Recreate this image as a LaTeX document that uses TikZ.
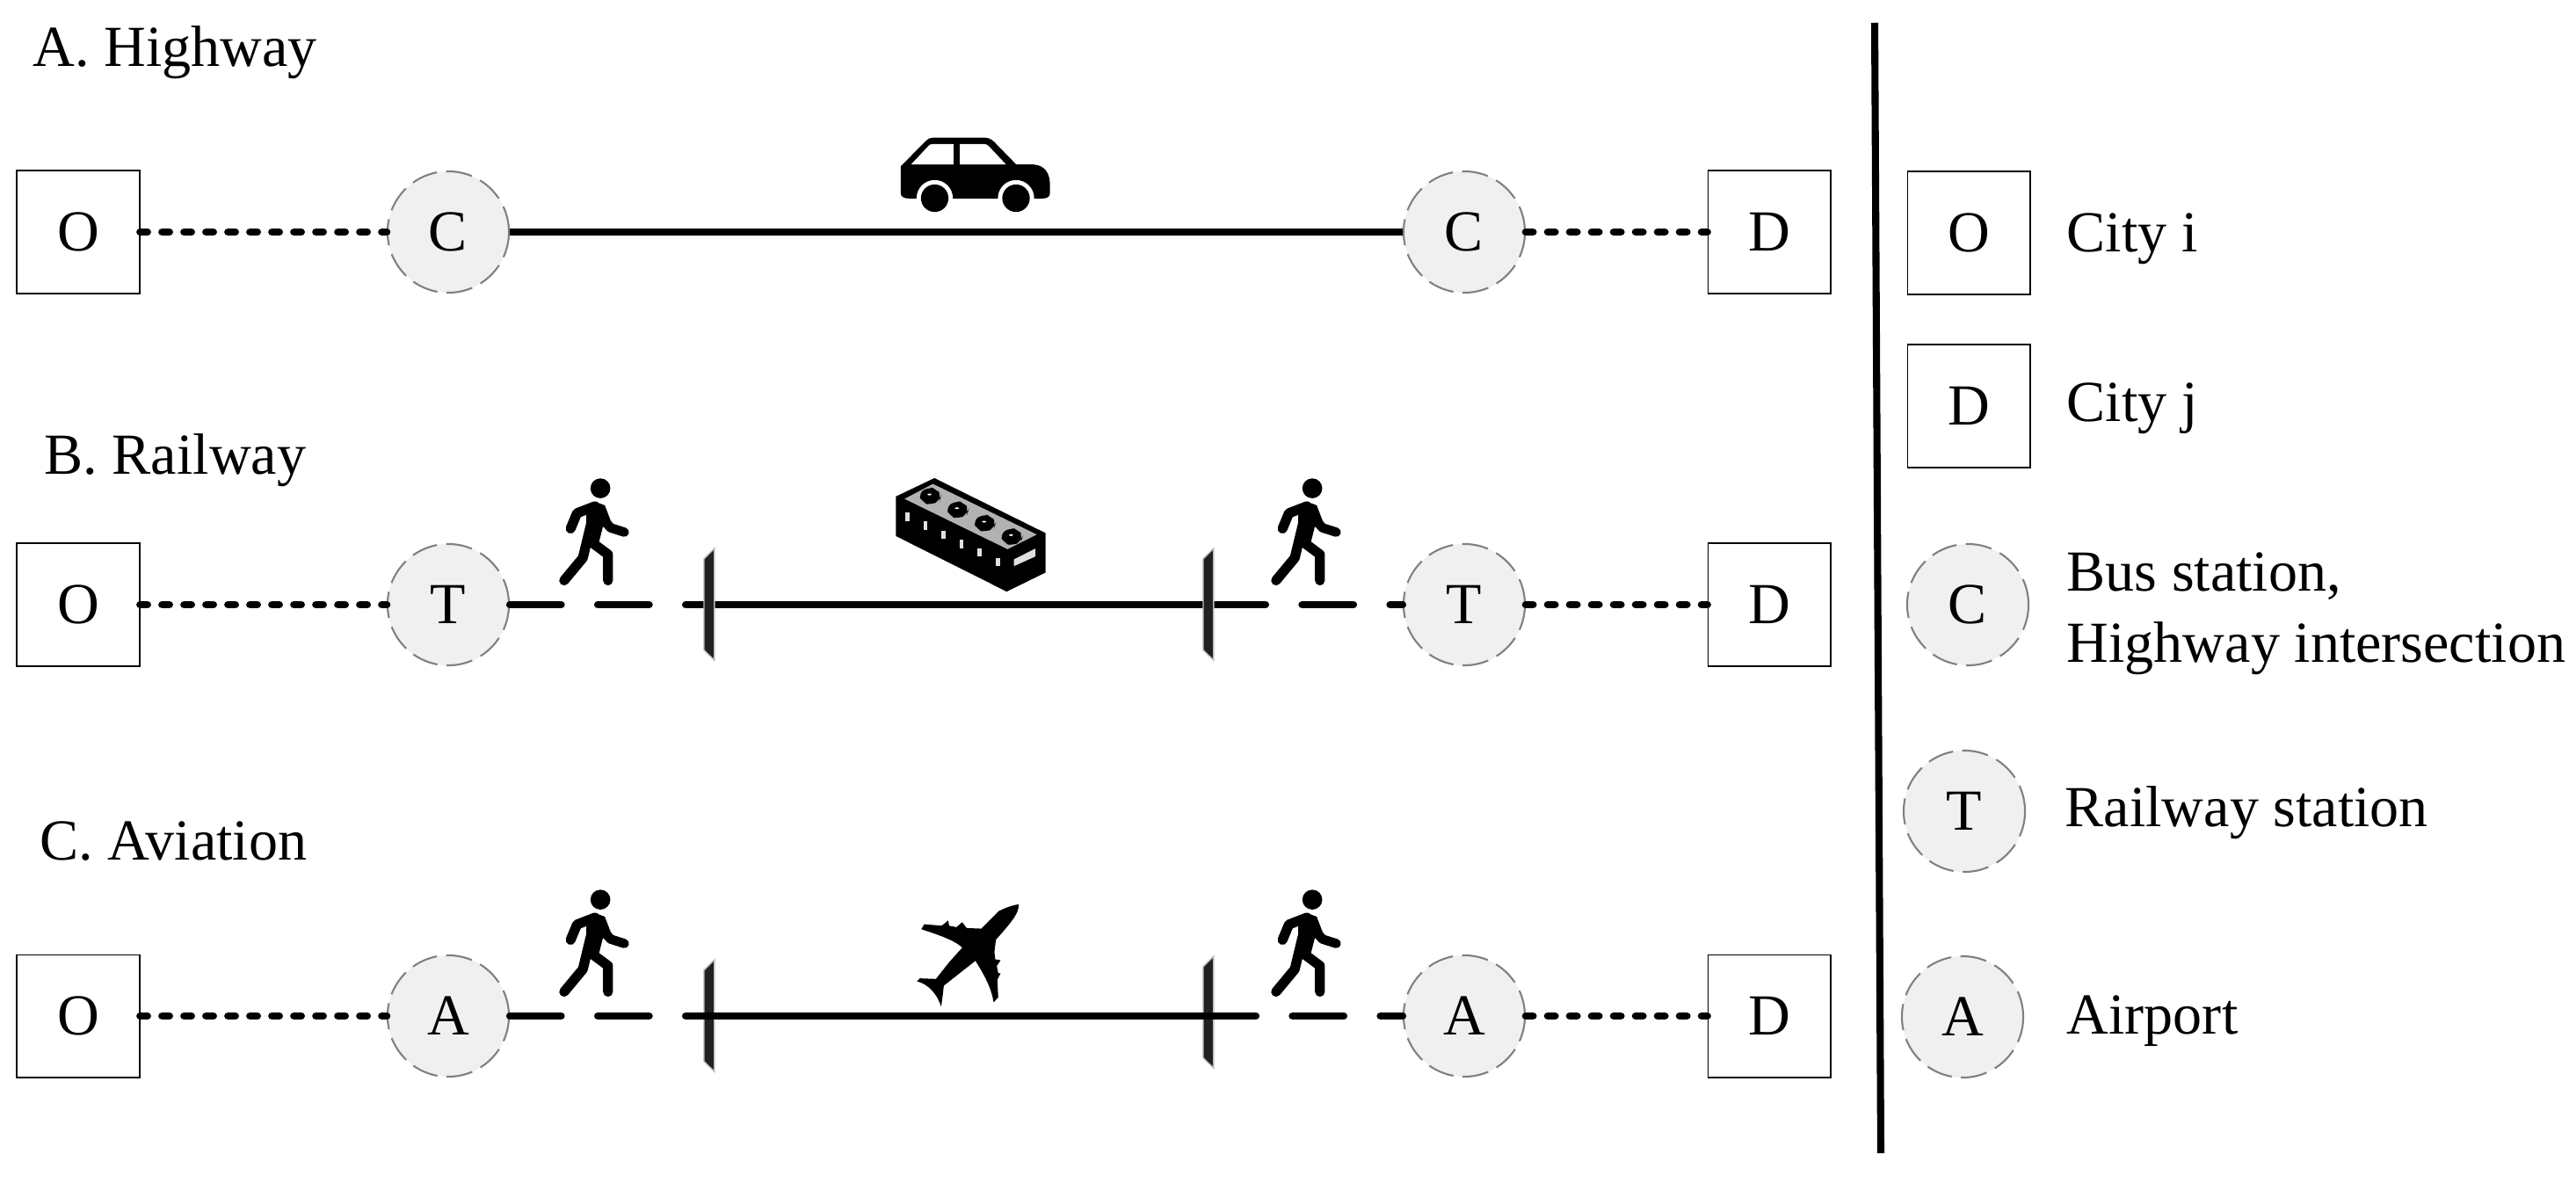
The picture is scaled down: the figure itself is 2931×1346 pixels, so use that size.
\documentclass[tikz,border=0pt]{standalone}
\usepackage{fontspec}
\setmainfont{Liberation Serif}
\tikzset{
	citybox/.style={draw, fill=white, line width=0.55pt, minimum width=1.39cm, minimum height=1.39cm, inner sep=0pt, font=\fontsize{18.8}{22.9}\selectfont},
	stationnode/.style={circle, draw=black!50, dash pattern=on 8.5pt off 3pt, fill=black!6, line width=0.6pt, minimum size=1.38cm, inner sep=0pt, font=\fontsize{18.8}{22.9}\selectfont},
	labeltext/.style={anchor=west, inner sep=0pt, align=left, font=\fontsize{18.8}{22.9}\selectfont},
	roadline/.style={line width=2.4pt},
	accessline/.style={line width=2.5pt, line cap=round, dash pattern=on 2.3pt off 4.81pt},
	walkline/.style={line width=2.4pt, line cap=round, dash pattern=on 16.6pt off 11.85pt},
	walker/.pic={
		\begin{scope}[x=0.00333cm, y=-0.00333cm]
			\fill (370,107) circle (34);
			\fill (322,200) -- (352,153) -- (385,165) -- (408,225) -- (378,240) -- (365,292) -- (322,300) -- cycle;
			\draw[line width=3.2pt, line cap=round, line join=round] (268,245) -- (290,192) -- (352,168);
			\draw[line width=3pt, line cap=round, line join=round] (390,225) -- (405,242) -- (452,257);
			\draw[line width=3.2pt, line cap=round, line join=round] (345,200) -- (310,345) -- (246,422);
			\draw[line width=3.2pt, line cap=round, line join=round] (345,295) -- (396,333) -- (396,422);
		\end{scope}
	},
	gate/.pic={
		\begin{scope}[x=0.00333cm, y=-0.00333cm]
			\fill[black!87, draw=black!25, line width=0.4pt] (724,348) -- (760,312) -- (760,695) -- (724,660) -- cycle;
		\end{scope}
	},
}
\begin{document}
\begin{tikzpicture}[x=0.01cm, y=-0.01cm]
	\useasboundingbox (0,0) rectangle (2931,1346);

	% Titles
	\node[labeltext] (titleA) at (37,60) {A. Highway};
	\node[labeltext] (titleB) at (50,524) {B. Railway};
	\node[labeltext] (titleC) at (45,957) {C. Aviation};

	% Highway
	\node[citybox] (OA) at (89,264) {O};
	\node[stationnode] (CA) at (510,264) {C};
	\node[stationnode] (CB) at (1666,264) {C};
	\node[citybox] (DA) at (2013,264) {D};
	\draw[accessline] (OA.east) -- (CA.west);
	\draw[roadline] (CA.east) -- (CB.west);
	\draw[accessline] (CB.east) -- (DA.west);

	% Car
	\begin{scope}[shift={(960,130)}, x=0.00333cm, y=-0.00333cm]
		\fill (195,270) -- (195,178) -- (280,92) .. controls (290,83) and (295,80) .. (305,80) -- (480,80) .. controls (495,80) and (505,85) .. (515,95) -- (590,172) -- (650,172) .. controls (690,175) and (705,205) .. (705,240) -- (705,270) .. controls (705,282) and (695,288) .. (680,288) -- (225,288) .. controls (205,288) and (195,282) .. (195,270) -- cycle;
		\fill[white] (230,172) -- (290,108) .. controls (295,103) and (298,102) .. (305,102) -- (375,102) -- (375,172) -- cycle;
		\fill[white] (397,172) -- (397,102) -- (480,102) .. controls (487,102) and (490,104) .. (495,108) -- (555,172) -- cycle;
		\fill[white] (311,287) circle (62) (589,287) circle (62);
		\fill (311,287) circle (47) (589,287) circle (47);
	\end{scope}

	% Railway
	\node[citybox] (OB) at (89,688) {O};
	\node[stationnode] (TA) at (510,688) {T};
	\node[stationnode] (TB) at (1666,688) {T};
	\node[citybox] (DB) at (2013,688) {D};
	\coordinate (gateBa) at (807,688);
	\coordinate (gateBb) at (1375,688);
	\draw[accessline] (OB.east) -- (TA.west);
	\draw[walkline] (TA.east) -- (gateBa);
	\draw[roadline] (gateBa) -- (gateBb);
	\draw[walkline, dash phase=26.6pt] (gateBb) -- (TB.west);
	\draw[accessline] (TB.east) -- (DB.west);
	\pic at (560,520) {gate};
	\pic at (1128,520) {gate};
	\pic at (560,520) {walker};
	\pic at (1370,520) {walker};

	% Train
	\begin{scope}[shift={(960,520)}, x=0.00333cm, y=-0.00333cm]
		\fill (178,135) -- (310,72) -- (690,260) -- (690,395) -- (557,460) -- (178,270) -- cycle;
		\fill[black!30] (208,143) -- (305,92) -- (660,265) -- (560,315) -- cycle;
		\foreach \cx/\cy in {293/133, 387/180, 480/226, 572/272} {
			\fill[shift={(\cx,\cy)}, rounded corners=2pt] (-38,-8) -- (-5,-30) -- (25,-25) -- (40,0) -- (35,15) -- (5,32) -- (-25,22) -- cycle;
			\fill[white, shift={(\cx,\cy)}] (0,-5) ellipse (7 and 3);
		}
		\foreach \wx/\wy in {210/190, 272/220, 334/252, 396/283, 458/313, 520/345} {
			\fill[black!12, shift={(\wx,\wy)}] (0,0) rectangle (14,28);
		}
		\fill[black!12] (582,350) -- (655,313) -- (655,340) -- (582,373) -- cycle;
	\end{scope}

	% Aviation
	\pic at (560,988) {gate};
	\pic at (1128,984) {gate};
	\node[citybox] (OC) at (89,1156) {O};
	\node[stationnode] (AA) at (510,1156) {A};
	\node[stationnode] (AB) at (1666,1156) {A};
	\node[citybox] (DC) at (2013,1156) {D};
	\coordinate (gateCa) at (807,1156);
	\coordinate (gateCb) at (1375,1156);
	\draw[accessline] (OC.east) -- (AA.west);
	\draw[walkline] (AA.east) -- (gateCa);
	\draw[roadline] (gateCa) -- (gateCb);
	\draw[walkline, dash phase=1.28pt] (gateCb) -- (AB.west);
	\draw[accessline] (AB.east) -- (DC.west);
	\pic at (560,988) {walker};
	\pic at (1370,988) {walker};

	% Plane
	\begin{scope}[shift={(1000,1000)}, x=0.00333cm, y=-0.00333cm]
		\fill (478,87) .. controls (478,115) and (465,135) .. (400,208) -- (395,250) -- (398,275) -- (416,278) -- (403,298) -- (408,322) -- (416,323) -- (405,345) -- (408,405) -- (392,422) .. controls (385,370) and (355,320) .. (330,280) -- (222,365) -- (218,400) -- (213,437) .. controls (200,395) and (170,360) .. (130,350) -- (140,340) -- (195,342) -- (240,285) -- (285,235) .. controls (260,210) and (200,190) .. (145,172) -- (155,155) -- (215,160) -- (237,142) -- (240,160) -- (265,165) -- (285,148) -- (300,168) -- (350,170) -- (410,110) .. controls (430,100) and (455,90) .. (478,87) -- cycle;
	\end{scope}

	% Divider
	\coordinate (divtop) at (2133,26);
	\coordinate (divbot) at (2140,1312);
	\draw[line width=2.3pt] (divtop) -- (divbot);

	% Legend
	\node[citybox] (keyO) at (2240,265) {O};
	\node[citybox] (keyD) at (2240,462) {D};
	\node[stationnode] (keyC) at (2239,688) {C};
	\node[stationnode] (keyT) at (2235,923) {T};
	\node[stationnode] (keyA) at (2233,1157) {A};
	\node[labeltext] (txtO) at (2351,272) {City i};
	\node[labeltext] (txtD) at (2351,465) {City j};
	\node[labeltext] (txtC) at (2351,698) {Bus station,\\Highway intersection};
	\node[labeltext] (txtT) at (2349,925) {Railway station};
	\node[labeltext] (txtA) at (2351,1162) {Airport};
\end{tikzpicture}
\end{document}
